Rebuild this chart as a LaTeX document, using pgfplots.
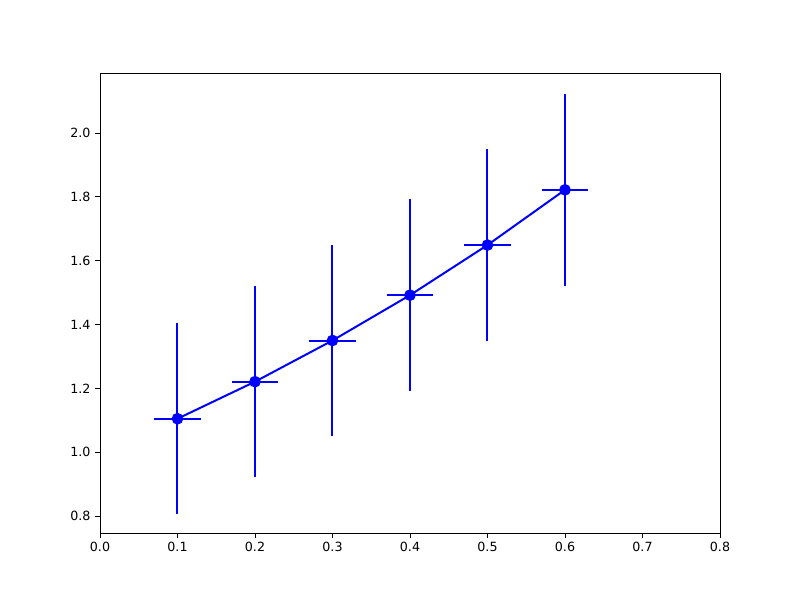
\documentclass[border=0pt]{standalone}
\usepackage{fontspec}
\setmainfont{DejaVu Sans}
\usepackage{pgfplots}
\pgfplotsset{compat=1.18}
\begin{document}
\begin{tikzpicture}
\useasboundingbox (-75pt,-50.25pt) rectangle (525pt,399.75pt);
\begin{axis}[
  at={(0,0)}, anchor=south west,
  scale only axis, width=465pt, height=345pt,
  xmin=0, xmax=0.8, ymin=0.747, ymax=2.188,
  xtick={0,0.1,...,0.8},
  ytick={0.8,1.0,...,2.0},
  xticklabels={0.0,0.1,0.2,0.3,0.4,0.5,0.6,0.7,0.8},
  yticklabels={0.8,1.0,1.2,1.4,1.6,1.8,2.0},
  tick align=outside, tick pos=left,
  major tick length=3.6pt,
  every tick/.style={black, line width=0.7pt},
  axis line style={line width=0.7pt},
  tick label style={font=\fontsize{9.5}{11}\selectfont},
  /pgf/number format/assume math mode=true,
]
\addplot[blue, line width=1.5pt, mark=*, mark size=3.6pt, mark options={fill=blue, solid},
  error bars/.cd, x dir=both, x explicit, y dir=both, y explicit,
  error mark=none, error bar style={line width=1.5pt, draw=blue}]
  coordinates {
  (0.1,1.105) +- (0.03,0.3)
  (0.2,1.221) +- (0.03,0.3)
  (0.3,1.350) +- (0.03,0.3)
  (0.4,1.492) +- (0.03,0.3)
  (0.5,1.649) +- (0.03,0.3)
  (0.6,1.822) +- (0.03,0.3)
  };
\end{axis}
\end{tikzpicture}
\end{document}
